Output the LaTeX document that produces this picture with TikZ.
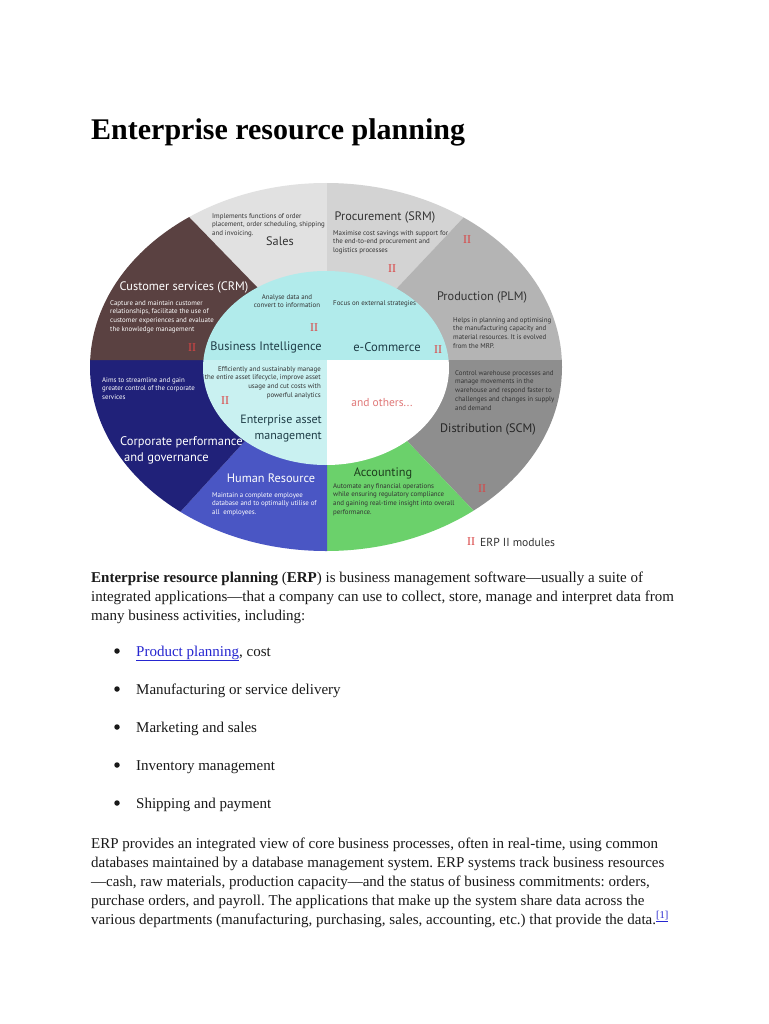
\documentclass[tikz,border=0pt]{standalone}
\usepackage{fontspec}
\setmainfont{Liberation Serif}
\newfontfamily\dsans{PT Sans}
\newfontfamily\rser{Liberation Serif}
\frenchspacing
\definecolor{csales}{HTML}{E1E1E1}
\definecolor{cproc}{HTML}{D3D3D3}
\definecolor{cprod}{HTML}{B4B4B4}
\definecolor{cdist}{HTML}{8E8E8E}
\definecolor{cacc}{HTML}{6BD16B}
\definecolor{chr}{HTML}{4A56C4}
\definecolor{ccorp}{HTML}{202179}
\definecolor{ccrm}{HTML}{5A4141}
\definecolor{cyanA}{HTML}{B1EBEB}
\definecolor{cyanB}{HTML}{C9F1F1}
\definecolor{erpred}{HTML}{D94545}
\definecolor{dtxt}{HTML}{333333}
\definecolor{teal}{HTML}{1E3C46}
\definecolor{dgreen}{HTML}{1D3D1D}
\definecolor{pinkt}{HTML}{E07878}
\definecolor{linkblue}{HTML}{2626D0}
\begin{document}
\begin{tikzpicture}[x=1pt,y=-1pt,
  lbl/.style={font=\dsans\fontsize{12.3}{14}\selectfont, inner sep=0, text=dtxt},
  big/.style={font=\dsans\fontsize{12.5}{16}\selectfont, inner sep=0, text=white, align=left},
  small/.style={font=\dsans\fontsize{6.9}{8.8}\selectfont, inner sep=0, align=left, anchor=north west, text=dtxt},
  roman/.style={font=\rser\fontsize{12}{12}\selectfont, inner sep=0, text=erpred},
  body/.style={font=\fontsize{15}{19}\selectfont, inner sep=0, anchor=base west, text=black!90},
  bul/.style={circle, fill=black!90, inner sep=0, minimum size=5.5pt}]
\fill[white] (0,0) rectangle (768,1024);
\useasboundingbox (0,0) rectangle (768,1024);

% title
\node[font=\bfseries\fontsize{30}{34}\selectfont, anchor=base west, inner sep=0] (title) at (91,140) {Enterprise resource planning};

% outer ring
\begin{scope}
\clip (326,367) ellipse [x radius=236pt, y radius=184pt];
\fill[csales] (327,362) -- (257,287) -- (56,80) -- (327,80) -- cycle;
\fill[cproc] (327,362) -- (327,80) -- (593,80) -- (398,287) -- cycle;
\fill[cprod] (327,362) -- (398,287) -- (593,80) -- (700,80) -- (700,360) -- (440,360) -- cycle;
\fill[cdist] (327,362) -- (440,360) -- (700,360) -- (700,646) -- (603,646) -- (408,442) -- cycle;
\fill[cacc] (327,362) -- (408,442) -- (603,646) -- (327,646) -- cycle;
\fill[chr] (327,362) -- (327,646) -- (60,644) -- (243,443) -- cycle;
\fill[ccorp] (327,362) -- (243,443) -- (60,644) -- (0,644) -- (0,360) -- (210,360) -- cycle;
\fill[ccrm] (327,362) -- (210,360) -- (0,360) -- (0,80) -- (56,80) -- (257,287) -- cycle;
\end{scope}
% inner ellipse
\begin{scope}
\clip (326,368) ellipse [x radius=123pt, y radius=97pt];
\fill[cyanA] (150,200) rectangle (327,360);
\fill[cyanA] (327,200) rectangle (500,360);
\fill[cyanB] (150,360) rectangle (327,500);
\fill[white] (327,360) rectangle (500,500);
\end{scope}

% Sales
\node[small] (salesd) at (212,213) {Implements functions of order\\placement, order scheduling, shipping\\and invoicing.};
\node[lbl] (sales) at (280,241) {Sales};
% Procurement
\node[lbl] (proc) at (385,217) {Procurement (SRM)};
\node[small] (procd) at (333,230) {Maximise cost savings with support for\\the end-to-end procurement and\\logistics processes};
\node[roman] (r1) at (392,269) {II};
\node[roman] (r2) at (467,240) {II};
% CRM
\node[lbl, text=white] (crm) at (184,287) {Customer services (CRM)};
\node[small, text=white] (crmd) at (110,300) {Capture and maintain customer\\relationships, facilitate the use of\\customer experiences and evaluate\\the knowledge management};
\node[roman] (r3) at (192,348) {II};
% BI
\node[small, anchor=center, align=center] (bid) at (287,301) {Analyse data and\\convert to information};
\node[roman] (r4) at (314,328) {II};
\node[lbl, text=teal] (bi) at (266,347) {Business Intelligence};
% e-Commerce
\node[small, anchor=west] (ecd) at (333,304) {Focus on external strategies};
\node[lbl, text=teal, font=\dsans\fontsize{12.6}{14}\selectfont] (ec) at (387,347) {e-Commerce};
\node[roman] (r5) at (438,350) {II};
% Production
\node[lbl] (prod) at (482,297) {Production (PLM)};
\node[small] (prodd) at (453,317) {Helps in planning and optimising\\the manufacturing capacity and\\material resources. It is evolved\\from the MRP.};
% Distribution
\node[small] (distd) at (455,370) {Control warehouse processes and\\manage movements in the\\warehouse and respond faster to\\challenges and changes in supply\\and demand};
\node[lbl, text=black!85] (dist) at (488,429) {Distribution (SCM)};
\node[roman] (r6) at (482,489) {II};
% others
\node[lbl, text=pinkt, font=\dsans\fontsize{11.5}{14}\selectfont] (oth) at (382,403) {and others...};
% EAM
\node[small, anchor=north east, align=right] (eamd) at (321,366) {Efficiently and sustainably manage\\the entire asset lifecycle, improve asset\\usage and cut costs with\\powerful analytics};
\node[roman] (r7) at (225,401) {II};
\node[lbl, text=teal, align=right, anchor=east, font=\dsans\fontsize{12}{16}\selectfont] (eam) at (322,429) {Enterprise asset\\management};
% Corporate
\node[small, text=white] (corpd) at (102,377) {Aims to streamline and gain\\greater control of the corporate\\services};
\node[big, anchor=west] (corp) at (120,450) {Corporate performance\\\hspace*{4pt}and governance};
% HR
\node[lbl, text=white] (hr) at (271,478) {Human Resource};
\node[small, text=white] (hrd) at (212,492) {Maintain a complete employee\\database and to optimally utilise of\\all\ \ employees.};
% Accounting
\node[lbl, text=dgreen] (acc) at (383,473) {Accounting};
\node[small] (accd) at (333,483) {Automate any financial operations\\while ensuring regulatory compliance\\and gaining real-time insight into overall\\performance.};
% legend
\node[roman] (r8) at (471,542) {II};
\node[lbl, anchor=west, font=\dsans\fontsize{11.6}{14}\selectfont] (leg) at (480,542) {ERP II modules};

% body text
\node[body] (p1a) at (91,582) {\textbf{Enterprise resource planning} (\textbf{ERP}) is business management software—usually a suite of};
\node[body] (p1b) at (91,601) {integrated applications—that a company can use to collect, store, manage and interpret data from};
\node[body] (p1c) at (91,620) {many business activities, including:};

\node[bul] (b1) at (117,651) {};
\node[body] (t1) at (136,656) {\textcolor{linkblue}{\underline{Product planning}}, cost};
\node[bul] (b2) at (117,689) {};
\node[body] (t2) at (136,694) {Manufacturing or service delivery};
\node[bul] (b3) at (117,727) {};
\node[body] (t3) at (136,732) {Marketing and sales};
\node[bul] (b4) at (117,765) {};
\node[body] (t4) at (136,770) {Inventory management};
\node[bul] (b5) at (117,803) {};
\node[body] (t5) at (136,808) {Shipping and payment};

\node[body] (p2a) at (91,848) {ERP provides an integrated view of core business processes, often in real-time, using common};
\node[body] (p2b) at (91,867) {databases maintained by a database management system. ERP systems track business resources};
\node[body] (p2c) at (91,886) {—cash, raw materials, production capacity—and the status of business commitments: orders,};
\node[body] (p2d) at (91,905) {purchase orders, and payroll. The applications that make up the system share data across the};
\node[body] (p2e) at (91,924) {various departments (manufacturing, purchasing, sales, accounting, etc.) that provide the data.\textsuperscript{\textcolor{linkblue}{\underline{[1]}}}};
\end{tikzpicture}
\end{document}
